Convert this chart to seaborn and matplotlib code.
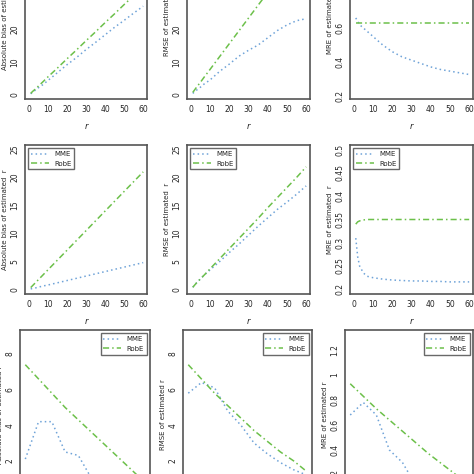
import numpy as np
import pandas as pd
import matplotlib
matplotlib.use("Agg")
import matplotlib.pyplot as plt
import seaborn as sns

sns.set_style("white")
plt.rcParams['font.family'] = ['DejaVu Sans']

# r grid for the top and middle rows
r = [1, 2, 3, 5, 7, 10, 15, 20, 25, 30, 35, 40, 45, 50, 55, 60]

# top row (alpha estimates)
top_bias_mme = [0.4, 0.8, 1.3, 2.2, 3.0, 4.4, 6.8, 9.2, 11.4, 13.8, 16.0, 18.3, 20.6, 22.7, 24.9, 27.0]
top_bias_robe = [0.5, 1.1, 1.6, 2.7, 3.8, 5.5, 8.2, 11.0, 13.7, 16.5, 19.2, 22.0, 24.7, 27.5, 30.2, 33.0]
top_rmse_mme = [0.5, 1.0, 1.5, 2.4, 3.4, 4.6, 7.2, 9.4, 11.8, 13.6, 15.2, 17.4, 19.6, 21.3, 22.6, 23.2]
top_rmse_robe = [0.8, 1.6, 2.4, 3.9, 5.5, 7.8, 11.7, 15.6, 19.5, 23.4, 27.3, 31.2, 35.1, 39.0, 42.9, 46.8]
top_mre_mme = [0.66, 0.64, 0.62, 0.60, 0.58, 0.55, 0.50, 0.46, 0.43, 0.41, 0.39, 0.37, 0.355, 0.345, 0.335, 0.325]
top_mre_robe = [0.63] * 16

# middle row (r estimates)
mid_bias_mme = [0.1, 0.2, 0.25, 0.4, 0.6, 0.8, 1.2, 1.6, 2.0, 2.4, 2.8, 3.2, 3.6, 4.0, 4.4, 4.8]
mid_bias_robe = [0.35, 0.7, 1.05, 1.75, 2.45, 3.5, 5.25, 7.0, 8.75, 10.5, 12.25, 14.0, 15.75, 17.5, 19.25, 21.0]
mid_rmse_mme = [0.4, 0.8, 1.2, 1.9, 2.6, 3.5, 5.0, 6.6, 8.1, 9.7, 11.3, 12.8, 14.3, 15.6, 17.0, 18.5]
mid_rmse_robe = [0.4, 0.8, 1.2, 1.9, 2.6, 3.7, 5.5, 7.3, 9.1, 10.9, 12.7, 14.6, 16.4, 18.2, 20.0, 21.9]
mid_mre_mme = [0.31, 0.27, 0.25, 0.235, 0.228, 0.225, 0.222, 0.220, 0.219, 0.218, 0.218, 0.217, 0.217, 0.216, 0.216, 0.216]
mid_mre_robe = [0.34, 0.345, 0.347, 0.349, 0.35, 0.35, 0.35, 0.35, 0.35, 0.35, 0.35, 0.35, 0.35, 0.35, 0.35, 0.35]

# bottom row
b = [1, 2, 3, 4, 5, 6, 7, 8, 9, 10]
bot_bias_mme = [2.1, 4.2, 4.2, 2.5, 2.3, 1.0, 0.5, 0.2, 0.1, 0.05]
bot_bias_robe = [7.4, 6.6, 5.8, 5.0, 4.3, 3.6, 2.9, 2.2, 1.5, 0.8]
bot_rmse_mme = [5.8, 6.4, 6.1, 4.8, 4.0, 3.0, 2.4, 1.9, 1.5, 1.2]
bot_rmse_robe = [7.4, 6.6, 5.8, 5.1, 4.4, 3.7, 3.1, 2.5, 2.0, 1.4]
bot_mre_mme = [0.68, 0.78, 0.68, 0.40, 0.30, 0.12, 0.05, 0.0, 0.0, 0.0]
bot_mre_robe = [0.93, 0.83, 0.73, 0.64, 0.55, 0.46, 0.37, 0.29, 0.21, 0.13]

BLUE = '#6fa3d8'
GREEN = '#6cc04a'
W = 474.0


def ax_at(left, top, right, bottom):
    # pixel box -> figure fraction
    return fig.add_axes([left / W, 1 - bottom / W, (right - left) / W, (bottom - top) / W])


def panel(ax, x, mme, robe, ylim, yticks, ylabel, xlim=(-2, 62), xticks=None, legend=None):
    df = pd.DataFrame({'x': list(x) * 2, 'y': list(mme) + list(robe),
                       'm': ['MME'] * len(x) + ['RobE'] * len(x)})
    sns.lineplot(data=df, x='x', y='y', hue='m', style='m',
                 palette={'MME': BLUE, 'RobE': GREEN},
                 dashes={'MME': (1, 2), 'RobE': (4, 2, 1, 2)},
                 linewidth=1.1, ax=ax, legend=legend is not None)
    ax.set_xlim(*xlim)
    ax.set_ylim(*ylim)
    ax.set_yticks(yticks)
    ax.set_yticklabels([f'{t:g}' for t in yticks], rotation=90, va='center', fontsize=5.5)
    if xticks is not None:
        ax.set_xticks(xticks)
        ax.set_xticklabels([str(t) for t in xticks], fontsize=5.5)
        ax.set_xlabel('r', fontsize=6, style='italic', labelpad=6)
    else:
        ax.set_xlabel('')
    ax.set_ylabel(ylabel, fontsize=5, labelpad=2)
    ax.tick_params(length=2, pad=2, color='#555555')
    for s in ax.spines.values():
        s.set_color('#555555')
        s.set_linewidth(1.2)
    if legend is not None:
        h, l = ax.get_legend_handles_labels()
        ax.legend(h, l, loc=legend, fontsize=5, frameon=True, fancybox=False,
                  edgecolor='#444444', handlelength=2.5, borderpad=0.4)


fig = plt.figure(figsize=(4.74, 4.74), dpi=100)
xt = [0, 10, 20, 30, 40, 50, 60]
cols = [(25, 147), (187, 310), (350, 473)]

# top row
panel(ax_at(*cols[0][:1], -53, cols[0][1], 99), r, top_bias_mme, top_bias_robe,
      (-1.2, 45), [0, 10, 20], 'Absolute bias of estimated', xticks=xt)
panel(ax_at(cols[1][0], -53, cols[1][1], 99), r, top_rmse_mme, top_rmse_robe,
      (-1.2, 45), [0, 10, 20], 'RMSE of estimated', xticks=xt)
panel(ax_at(cols[2][0], -53, cols[2][1], 99), r, top_mre_mme, top_mre_robe,
      (0.18, 1.08), [0.2, 0.4, 0.6], 'MRE of estimated', xticks=xt)

# middle row
panel(ax_at(cols[0][0], 145, cols[0][1], 294), r, mid_bias_mme, mid_bias_robe,
      (-0.8, 25.8), [0, 5, 10, 15, 20, 25], 'Absolute bias of estimated  r', xticks=xt,
      legend='upper left')
panel(ax_at(cols[1][0], 145, cols[1][1], 294), r, mid_rmse_mme, mid_rmse_robe,
      (-0.8, 25.8), [0, 5, 10, 15, 20, 25], 'RMSE of estimated  r', xticks=xt,
      legend='upper left')
panel(ax_at(cols[2][0], 145, cols[2][1], 294), r, mid_mre_mme, mid_mre_robe,
      (0.19, 0.51), [0.20, 0.25, 0.30, 0.35, 0.40, 0.45, 0.50], 'MRE of estimated  r',
      xticks=xt, legend='upper left')

# bottom row
panel(ax_at(20, 330, 150, 500), b, bot_bias_mme, bot_bias_robe,
      (-0.2, 9.35), [2, 4, 6, 8], 'Absolute bias of estimated r', xlim=(0.6, 10.4),
      legend='upper right')
panel(ax_at(183, 330, 312, 500), b, bot_rmse_mme, bot_rmse_robe,
      (-0.2, 9.35), [2, 4, 6, 8], 'RMSE of estimated r', xlim=(0.6, 10.4),
      legend='upper right')
panel(ax_at(345, 330, 473, 500), b, bot_mre_mme, bot_mre_robe,
      (0.0, 1.36), [0.2, 0.4, 0.6, 0.8, 1.0, 1.2], 'MRE of estimated r', xlim=(0.6, 10.4),
      legend='upper right')

fig.savefig('out.png', dpi=100)
